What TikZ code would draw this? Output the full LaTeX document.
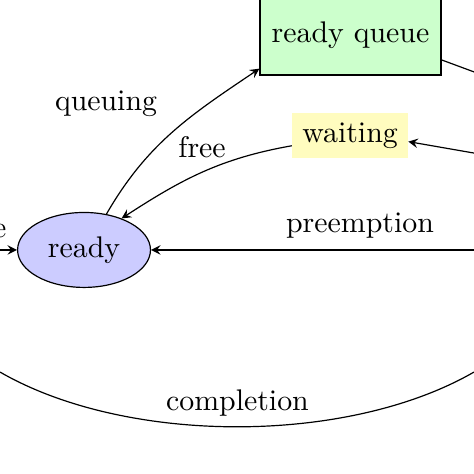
\documentclass[tikz,border=0pt]{standalone}
\usepackage{amsmath, amssymb}
\usepackage{tikz}
\usetikzlibrary{calc,shapes.geometric}
\usepackage{xcolor}

\begin{document}
\begin{tikzpicture}[
  >=stealth,
  statebox/.style={ellipse,draw,fill=blue!20,inner sep=1pt,minimum width=44.5pt,minimum height=25.1pt},
  queuebox/.style={rectangle,draw,fill=green!20,inner xsep=3.9pt,minimum height=26.5pt},
  waitbox/.style={rectangle,fill=yellow!25},
  lab/.style={anchor=base,inner sep=0pt}
  ]
\def\ww{5.579}
\clip (0,0) rectangle (\ww,\ww);
\node[statebox] (ready) at (0.989,2.637) {ready};
\node[queuebox] (queue) at (4.125,5.161) {ready queue};
\node[waitbox] (waiting) at (4.120,3.984) {waiting};
\coordinate (createin) at (-0.3,2.637);
\coordinate (prein) at (5.9,2.637);
\coordinate (queueout) at (6.12,4.532);
\coordinate (waitin) at (5.885,3.724);
\coordinate (compr) at (\ww,1.2);
\coordinate (compl) at (0,1.2);
\draw[->] (createin) -- (ready.west);
\draw[->] (prein) -- (ready.east);
\draw[->] (ready.58) to[out=60,in=214] (queue.200);
\draw[->] (waiting.190) to[out=190,in=33] (ready.40);
\draw (queue.-15) -- (queueout);
\draw[->] (waitin) -- (waiting.-6);
\draw (compr) to[out=210,in=-30,looseness=0.79] (compl);
\node[lab,anchor=base east] (le) at (0.082,2.778) {e};
\node[lab] (lqueuing) at (1.248,4.284) {queuing};
\node[lab] (lfree) at (2.378,3.720) {free};
\node[lab] (lpre) at (4.237,2.837) {preemption};
\node[lab] (lcompl) at (2.795,0.753) {completion};
\end{tikzpicture}
\end{document}
